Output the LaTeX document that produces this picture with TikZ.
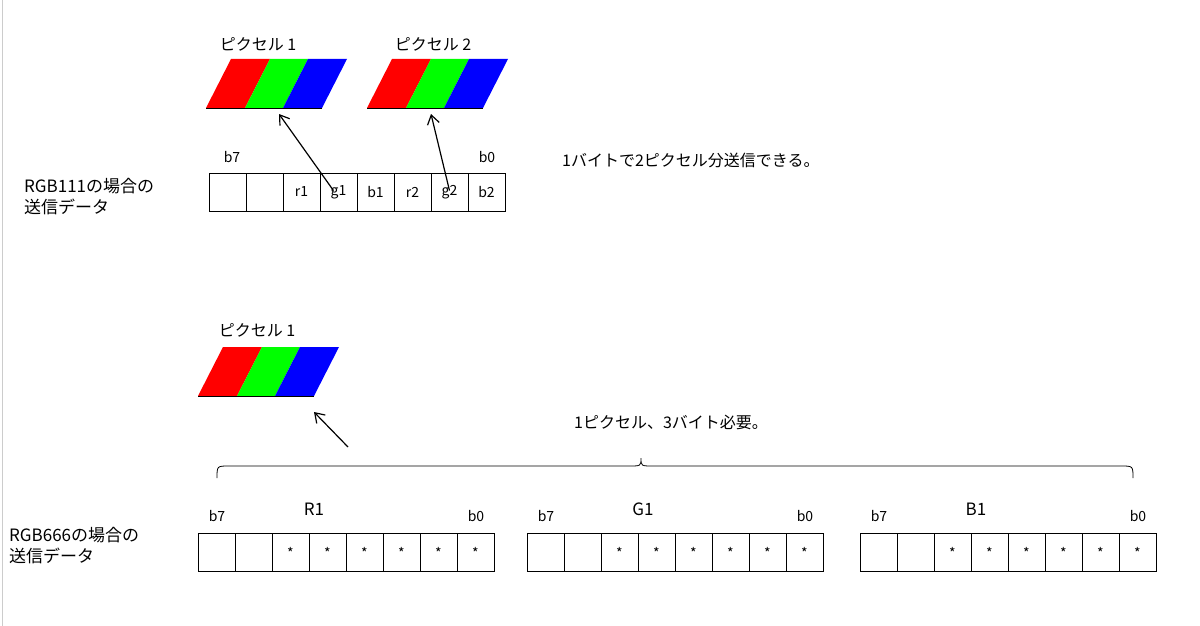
\documentclass[tikz,border=0pt]{standalone}
\usepackage{fontspec}
\setmainfont{Noto Sans CJK JP}
\usetikzlibrary{arrows.meta}
\definecolor{pr}{RGB}{255,0,0}\definecolor{pg}{RGB}{0,255,0}\definecolor{pb}{RGB}{0,0,255}
\tikzset{
 cellbox/.style={draw,line width=0.8pt,minimum width=37pt,minimum height=38pt,inner sep=0pt,font=\fontsize{14}{14}\selectfont},
 lbl/.style={font=\fontsize{16}{18}\selectfont,inner sep=0pt},
 small/.style={font=\fontsize{14}{16}\selectfont,inner sep=0pt},
 arr/.style={-{Straight Barb[length=9pt,width=12pt]},line width=1.2pt},
}
\newcommand{\pixel}[4]{% top-left x, top y, shift, height
 \fill[pr] (#1,#2) -- ++(39,0) -- ++(-25,#4) -- ++(-39,0) -- cycle;
 \fill[pg] (#1+39,#2) -- ++(38,0) -- ++(-25,#4) -- ++(-38,0) -- cycle;
 \fill[pb] (#1+77,#2) -- ++(39,0) -- ++(-25,#4) -- ++(-39,0) -- cycle;
 \draw[line width=0.8pt] (#1-25,#2+#4) -- ++(116,0);}
\begin{document}
\begin{tikzpicture}[x=1pt,y=-1pt]
\useasboundingbox (0,0) rectangle (1200,626);
\draw[gray!40,line width=1pt] (2,0) -- (2,626);
% top
\pixel{231}{59}{25}{49}
\pixel{392}{59}{25}{49}
\node[lbl] (p1) at (258,44) {ピクセル 1};
\node[lbl] (p2) at (433,44) {ピクセル 2};
\coordinate (t1) at (279,114); \coordinate (t2) at (431,114);
\foreach \t [count=\i from 0] in {{},{},r1,g1,b1,r2,g2,b2}
  \node[cellbox] (a\i) at (227.5+37*\i,192) {\t};
\draw[arr] ([xshift=-5pt,yshift=-18pt]a3.north) -- (t1);
\draw[arr] ([xshift=0pt,yshift=-18pt]a6.north) -- (t2);
\node[small] (b7a) at (232,157) {b7};
\node[small] (b0a) at (487,157) {b0};
\node[lbl,anchor=west,align=left,font=\fontsize{17}{21}\selectfont] (l1) at (24,197) {RGB111の場合の\\送信データ};
\node[lbl,anchor=west] (n1) at (562,160) {1バイトで2ピクセル分送信できる。};
% bottom
\pixel{223}{347}{25}{49}
\node[lbl] (p3) at (257,330) {ピクセル 1};
\coordinate (t3) at (314,412);
\coordinate (s3) at (348,447);
\draw[arr] (s3) -- (t3);
\node[lbl] (n2) at (671,422) {1ピクセル、3バイト必要。};
\draw[line width=0.8pt] (217,478) .. controls (217,466) .. (229,466) -- (629,466) .. controls (641,466) .. (641,458)
  .. controls (641,466) .. (653,466) -- (1121,466) .. controls (1133,466) .. (1133,478);
\foreach \gx/\nm [count=\g] in {198/R1,527/G1,860/B1}{
  \foreach \t [count=\i from 0] in {{},{},*,*,*,*,*,*}
    \node[cellbox] (c\g-\i) at (\gx+18.5+37*\i,552.5) {\t};
  \node[small] (b7\g) at (\gx+19,516) {b7};
  \node[small] (b0\g) at (\gx+278,516) {b0};
  \node[lbl,font=\fontsize{17}{19}\selectfont] (h\g) at (\gx+116,509) {\nm};
}
\node[lbl,anchor=west,align=left,font=\fontsize{17}{21}\selectfont] (l2) at (9,546) {RGB666の場合の\\送信データ};
\end{tikzpicture}
\end{document}
